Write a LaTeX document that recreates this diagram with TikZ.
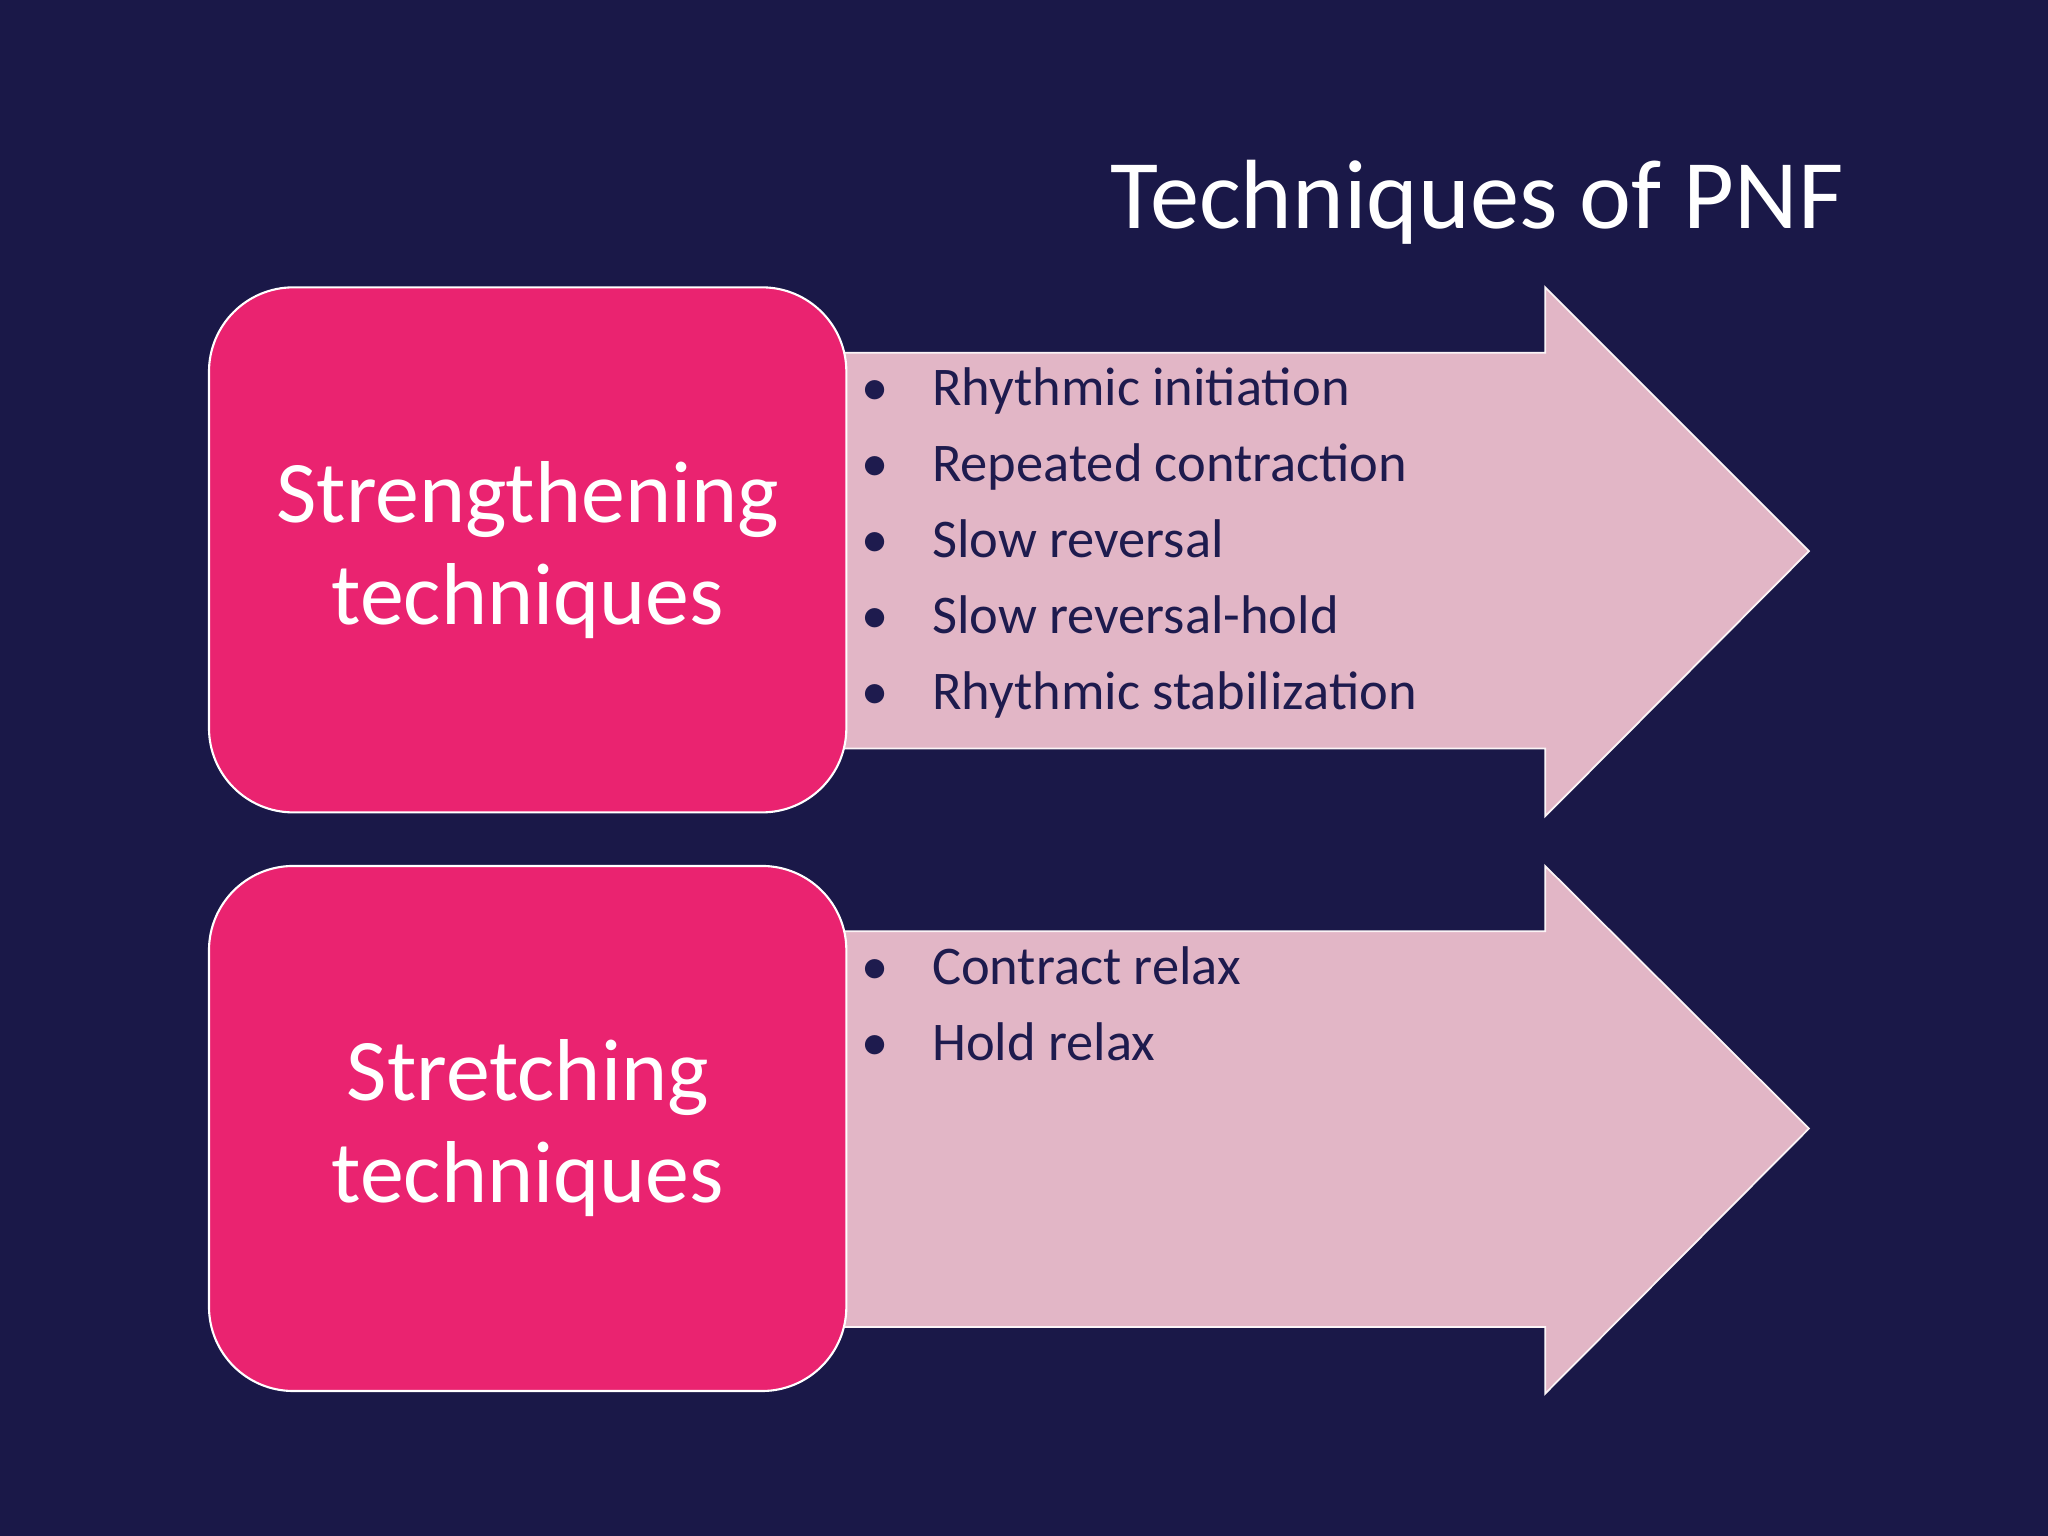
\documentclass[tikz,border=0pt]{standalone}
\usepackage{fontspec}
\setmainfont{Carlito}
\definecolor{bg}{HTML}{1A1848}
\definecolor{boxc}{HTML}{EA2370}
\definecolor{arrc}{HTML}{E2B6C6}
\definecolor{txt}{HTML}{1E1B4E}
\begin{document}
\begin{tikzpicture}[x=0.01306cm,y=-0.01306cm,
  box/.style={fill=boxc,draw=white,line width=0.6pt,rounded corners=24pt},
  arr/.style={fill=arrc,draw=white!85!arrc,line width=0.5pt},
  head/.style={text=white,font=\fontsize{25}{29}\selectfont,align=center},
  items/.style={text=txt,font=\fontsize{15.5}{21.6}\selectfont,anchor=north west,align=left}]
\fill[bg] (0,0) rectangle (1568,1176);
\useasboundingbox (0,0) rectangle (1568,1176);
\node[text=white,font=\fontsize{28}{32}\selectfont,anchor=base east] (title) at (1421,175) {Techniques of PNF};
% row 1
\draw[arr] (640,270) -- (1183,270) -- (1183,220) -- (1385,422) -- (1183,625) -- (1183,573) -- (640,573) -- cycle;
\draw[box] (160,220) rectangle (648,622);
\node[head] (s1) at (404,421) {Strengthening\\techniques};
\node[items] (l1) at (650,272) {\textbullet\hspace{0.8em}Rhythmic initiation\\ \textbullet\hspace{0.8em}Repeated contraction\\ \textbullet\hspace{0.8em}Slow reversal\\ \textbullet\hspace{0.8em}Slow reversal-hold\\ \textbullet\hspace{0.8em}Rhythmic stabilization};
% row 2
\draw[arr] (640,713) -- (1183,713) -- (1183,663) -- (1385,864) -- (1183,1067) -- (1183,1016) -- (640,1016) -- cycle;
\draw[box] (160,663) rectangle (648,1065);
\node[head] (s2) at (404,864) {Stretching\\techniques};
\node[items] (l2) at (650,715) {\textbullet\hspace{0.8em}Contract relax\\ \textbullet\hspace{0.8em}Hold relax};
\end{tikzpicture}
\end{document}
